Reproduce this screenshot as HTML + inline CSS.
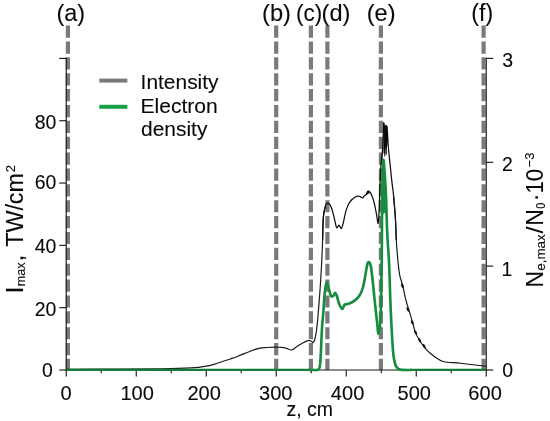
<!DOCTYPE html>
<html><head><meta charset="utf-8"><title>Intensity and electron density</title>
<style>
html,body{margin:0;padding:0;background:#fff;}
body{width:550px;height:421px;overflow:hidden;font-family:"Liberation Sans",sans-serif;}
svg{display:block;}
text{font-family:"Liberation Sans",sans-serif;fill:#0a0a0a;stroke:#0a0a0a;stroke-width:0.1;}
</style></head><body>
<svg width="550" height="421" viewBox="0 0 550 421">
<rect width="550" height="421" fill="#fff"/>

<g stroke="#7a7a7a" stroke-width="4.2" stroke-dasharray="12.2 3.67" fill="none">
<line x1="67.9" y1="25.6" x2="67.9" y2="370"/>
<line x1="276.2" y1="25.6" x2="276.2" y2="370"/>
<line x1="310.9" y1="25.6" x2="310.9" y2="370"/>
<line x1="327.4" y1="25.6" x2="327.4" y2="370"/>
<line x1="380.9" y1="25.6" x2="380.9" y2="370"/>
<line x1="483.6" y1="25.6" x2="483.6" y2="370"/>
</g>
<g fill="none" stroke="#0d0d0d" stroke-width="1.25" stroke-linejoin="round">
<path d="M66.5 369.3C75.4 369.3 104.4 369.2 120.0 369.1C135.6 369.0 148.2 369.0 160.0 368.8C171.8 368.6 184.5 368.1 191.0 367.9C197.5 367.6 196.4 367.6 199.0 367.3C201.6 367.0 203.9 366.7 206.4 366.2C208.9 365.7 211.4 365.0 214.0 364.3C216.6 363.6 219.2 362.7 221.8 361.8C224.4 360.9 226.9 360.1 229.5 359.2C232.1 358.3 234.0 357.8 237.3 356.5C240.7 355.2 246.0 352.9 249.6 351.5C253.2 350.1 256.1 349.1 258.9 348.4C261.7 347.7 263.5 347.7 266.6 347.5C269.7 347.3 274.4 347.1 277.5 347.2C280.6 347.2 282.9 347.3 285.2 347.8C287.5 348.3 289.6 350.1 291.4 350.0C293.2 349.9 294.2 348.3 296.0 347.2C297.8 346.1 300.2 344.3 302.2 343.2C304.2 342.1 306.3 341.1 307.8 340.7C309.3 340.3 310.1 340.7 311.0 341.0C311.9 341.3 312.4 342.8 313.0 342.6C313.6 342.4 314.1 341.7 314.7 339.8C315.3 337.9 315.9 334.6 316.4 331.0C316.9 327.4 317.2 325.6 317.8 318.4C318.4 311.1 319.5 297.3 320.2 287.5C320.9 277.7 321.4 267.7 321.8 259.8C322.2 251.9 322.4 247.0 322.6 240.0C322.9 233.0 322.9 223.6 323.3 218.0C323.7 212.4 324.9 208.5 325.2 206.6" stroke-width="1.2" stroke="#1c1c1c"/>
<path d="M322.6 240.0C322.7 236.3 322.9 223.6 323.3 218.0C323.7 212.4 324.5 209.1 325.2 206.6C325.9 204.1 326.8 203.2 327.7 203.2C328.6 203.2 329.9 204.4 330.9 206.6C331.9 208.8 332.9 212.6 333.8 216.1C334.8 219.6 335.8 226.0 336.6 227.5C337.5 229.0 338.1 225.0 338.9 225.2C339.7 225.4 340.7 228.9 341.4 228.5C342.1 228.1 342.5 225.8 343.3 222.8C344.1 219.8 345.0 213.9 346.1 210.4C347.2 206.9 348.3 204.2 349.9 201.9C351.5 199.6 354.0 197.6 355.6 196.7C357.2 195.8 358.3 196.1 359.5 196.3C360.7 196.5 361.8 198.0 362.6 197.9C363.4 197.8 363.6 196.6 364.2 196.0C364.8 195.4 365.5 195.2 366.0 194.6C366.5 194.0 366.8 192.8 367.2 192.2C367.6 191.6 368.0 190.8 368.6 191.0C369.2 191.2 370.0 191.7 370.8 193.3C371.6 195.0 372.8 197.4 373.7 200.9C374.6 204.4 375.8 210.5 376.5 214.2C377.2 217.9 377.7 223.7 378.1 223.3C378.5 222.9 378.9 215.9 379.1 212.0C379.3 208.1 379.4 203.7 379.5 200.0C379.6 196.3 379.7 193.4 379.8 190.0C379.9 186.6 380.0 184.2 380.2 179.5C380.4 174.8 380.8 166.9 381.2 162.0C381.6 157.1 382.2 153.3 382.5 150.0C382.8 146.7 382.8 146.6 383.0 142.0C383.2 137.4 383.6 125.7 383.7 122.4"/>
<path d="M383.7 122.4L384.0 153.0L384.3 124.0L384.8 156.0L385.2 125.8L385.6 148.0L385.9 125.3L386.3 154.0L386.6 125.8L386.9 146.0L387.2 126.5L388.6 150.0" stroke-width="1.05"/>
<path d="M388.6 150.0C389.1 155.0 390.9 172.3 391.7 180.0C392.5 187.7 393.0 189.3 393.6 196.0C394.2 202.7 395.1 212.7 395.5 220.0C395.9 227.3 396.2 236.7 396.3 240.0" stroke-width="1.25"/>
<path d="M393.6 196.0C393.9 200.0 395.1 212.7 395.5 220.0C395.9 227.3 395.9 233.1 396.3 240.0C396.7 246.9 397.4 255.5 398.0 261.4C398.6 267.3 399.0 271.7 399.8 275.6C400.6 279.6 401.6 281.1 402.6 285.1C403.6 289.1 404.6 295.0 405.7 299.4C406.8 303.8 408.1 307.4 409.3 311.3C410.5 315.2 411.8 319.6 412.8 323.1C413.8 326.6 414.1 329.3 415.3 332.4C416.6 335.5 418.5 338.6 420.3 341.5C422.1 344.4 424.4 347.4 426.4 349.6C428.4 351.9 430.4 353.4 432.4 355.0C434.4 356.6 436.6 358.2 438.5 359.3C440.4 360.4 440.4 361.0 444.1 361.7C447.8 362.4 454.1 362.6 460.7 363.3C467.3 364.0 479.7 365.5 483.9 366.0C488.1 366.5 485.6 366.2 486.0 366.3" stroke-width="1.15" stroke="#141414"/>
</g>
<g fill="#111">
<path d="M365.6 195.6L367 192.4L368.6 190.7L370.4 192.8L369 193.6L367.6 194.2Z"/>
<ellipse cx="402.4" cy="286.0" rx="1.15" ry="2.4" transform="rotate(-25 402.4 286.0)"/>
<ellipse cx="407.9" cy="309.5" rx="1.15" ry="2.4" transform="rotate(-25 407.9 309.5)"/>
<ellipse cx="412.3" cy="322.6" rx="1.15" ry="2.4" transform="rotate(-25 412.3 322.6)"/>
<ellipse cx="415.6" cy="332.6" rx="1.15" ry="2.4" transform="rotate(-25 415.6 332.6)"/>
<ellipse cx="419.6" cy="340.3" rx="1.15" ry="2.4" transform="rotate(-25 419.6 340.3)"/>
<ellipse cx="424.2" cy="346.3" rx="1.15" ry="2.4" transform="rotate(-25 424.2 346.3)"/>
</g>
<g stroke="#1a1a1a" stroke-width="1.15" fill="none">
<line x1="66.25" y1="57.8" x2="66.25" y2="370.6"/>
<line x1="486.25" y1="57.8" x2="486.25" y2="370.6"/>
<line x1="66.25" y1="370.0" x2="486.25" y2="370.0"/>
<line x1="66.25" y1="370.0" x2="66.25" y2="376.5"/>
<line x1="101.25" y1="370.0" x2="101.25" y2="373.3"/>
<line x1="136.25" y1="370.0" x2="136.25" y2="376.5"/>
<line x1="171.25" y1="370.0" x2="171.25" y2="373.3"/>
<line x1="206.25" y1="370.0" x2="206.25" y2="376.5"/>
<line x1="241.25" y1="370.0" x2="241.25" y2="373.3"/>
<line x1="276.25" y1="370.0" x2="276.25" y2="376.5"/>
<line x1="311.25" y1="370.0" x2="311.25" y2="373.3"/>
<line x1="346.25" y1="370.0" x2="346.25" y2="376.5"/>
<line x1="381.25" y1="370.0" x2="381.25" y2="373.3"/>
<line x1="416.25" y1="370.0" x2="416.25" y2="376.5"/>
<line x1="451.25" y1="370.0" x2="451.25" y2="373.3"/>
<line x1="486.25" y1="370.0" x2="486.25" y2="376.5"/>
<line x1="59.25" y1="370.00" x2="66.25" y2="370.00"/>
<line x1="59.25" y1="307.68" x2="66.25" y2="307.68"/>
<line x1="59.25" y1="245.36" x2="66.25" y2="245.36"/>
<line x1="59.25" y1="183.04" x2="66.25" y2="183.04"/>
<line x1="59.25" y1="120.72" x2="66.25" y2="120.72"/>
<line x1="59.25" y1="58.40" x2="66.25" y2="58.40"/>
<line x1="486.25" y1="370.00" x2="493.25" y2="370.00"/>
<line x1="486.25" y1="266.13" x2="493.25" y2="266.13"/>
<line x1="486.25" y1="162.27" x2="493.25" y2="162.27"/>
<line x1="486.25" y1="58.40" x2="493.25" y2="58.40"/>
</g>
<path d="M66.6 369.9H310M410 369.9H485.8" fill="none" stroke="#147c36" stroke-width="2.25"/>
<path d="M308.0 370.0C309.4 370.0 314.6 370.1 316.3 370.0C318.0 369.9 317.8 369.9 318.4 369.5C318.9 369.1 319.3 368.8 319.6 367.5C319.9 366.2 320.1 364.6 320.3 362.0C320.5 359.4 320.7 355.7 320.9 352.0C321.1 348.3 321.2 344.5 321.4 340.0C321.6 335.5 321.9 329.8 322.2 325.0C322.5 320.2 323.0 316.8 323.4 311.3C323.8 305.9 324.3 297.1 324.8 292.3C325.3 287.6 326.0 283.6 326.6 282.8C327.2 282.0 327.8 285.3 328.5 287.5C329.2 289.7 330.1 294.4 330.9 295.8C331.7 297.2 332.6 296.3 333.3 295.8C334.0 295.3 334.6 292.7 335.2 292.7C335.8 292.7 336.1 293.9 336.8 295.8C337.5 297.7 338.3 301.9 339.2 304.1C340.1 306.3 341.4 308.8 342.3 308.9C343.2 309.0 343.6 305.5 344.7 304.6C345.8 303.7 347.0 304.4 348.7 303.7C350.4 303.0 352.8 301.9 354.6 300.6C356.4 299.3 358.0 298.0 359.4 295.8C360.8 293.6 361.9 290.9 362.9 287.5C363.9 284.1 364.6 279.4 365.3 275.6C366.0 271.8 366.6 267.1 367.2 264.9C367.8 262.6 368.3 261.9 368.9 262.1C369.5 262.3 370.2 263.5 370.8 266.1C371.4 268.8 371.7 272.1 372.4 278.0C373.1 283.9 374.0 294.3 374.8 301.8C375.6 309.3 376.6 317.7 377.2 323.1C377.8 328.5 377.8 334.0 378.3 334.0C378.8 334.0 379.8 330.8 380.3 323.0C380.8 315.2 381.0 301.3 381.3 287.5C381.6 273.7 381.8 255.2 381.9 240.0C382.0 224.8 382.0 206.8 382.1 196.0C382.2 185.2 382.4 180.7 382.6 175.0C382.8 169.3 383.1 164.5 383.2 162.0C383.3 159.5 383.4 159.7 383.5 159.8C383.6 159.9 383.6 159.5 383.9 162.5C384.1 165.5 384.6 172.4 385.0 178.0C385.4 183.6 385.7 190.0 386.0 196.0C386.3 202.0 386.4 208.3 386.6 214.0C386.8 219.7 386.9 225.7 387.1 230.0C387.3 234.3 387.3 234.4 387.6 240.0C387.9 245.6 388.7 253.9 389.1 263.8C389.6 273.7 389.9 288.4 390.3 299.4C390.7 310.4 391.3 322.4 391.7 330.0C392.1 337.6 392.3 340.5 392.6 345.0C392.9 349.5 393.2 353.6 393.7 357.0C394.2 360.4 394.8 363.3 395.6 365.3C396.4 367.3 397.2 368.1 398.3 368.9C399.4 369.7 399.7 369.7 402.0 369.9C404.3 370.1 410.3 370.0 412.0 370.0" fill="none" stroke="#168c3f" stroke-width="2.65" stroke-linejoin="round"/>
<path d="M383.5 161L382.1 196L382 216L384.4 212.5L386.7 216L386 196L385 178Z" fill="#168c3f"/>
<text transform="translate(60.41,400.38) scale(1.003,1)" font-size="20.00">0</text>
<text transform="translate(120.40,400.38) scale(1.003,1)" font-size="20.00">100</text>
<text transform="translate(187.45,400.38) scale(1.003,1)" font-size="20.00">200</text>
<text transform="translate(259.07,400.38) scale(1.003,1)" font-size="20.00">300</text>
<text transform="translate(330.83,400.38) scale(1.003,1)" font-size="20.00">400</text>
<text transform="translate(397.55,400.38) scale(1.003,1)" font-size="20.00">500</text>
<text transform="translate(468.35,400.38) scale(1.003,1)" font-size="20.00">600</text>
<text transform="translate(41.93,376.57) scale(0.973,1)" font-size="20.00">0</text>
<text transform="translate(34.63,316.07) scale(0.973,1)" font-size="20.00">20</text>
<text transform="translate(34.63,253.07) scale(0.973,1)" font-size="20.00">40</text>
<text transform="translate(34.63,189.07) scale(0.973,1)" font-size="20.00">60</text>
<text transform="translate(34.63,128.68) scale(0.973,1)" font-size="20.00">80</text>
<text transform="translate(502.22,377.18) scale(0.973,1)" font-size="20.00">0</text>
<text transform="translate(501.54,275.77) scale(0.973,1)" font-size="20.00">1</text>
<text transform="translate(502.03,171.47) scale(0.973,1)" font-size="20.00">2</text>
<text transform="translate(502.27,66.67) scale(0.973,1)" font-size="20.00">3</text>
<text transform="translate(56.43,20.70) scale(0.985,1)" font-size="23.80">(a)</text>
<text transform="translate(262.02,20.70) scale(0.993,1)" font-size="23.80">(b)</text>
<text transform="translate(296.10,20.70) scale(0.943,1)" font-size="23.80">(c)</text>
<text transform="translate(321.62,20.70) scale(0.993,1)" font-size="23.80">(d)</text>
<text transform="translate(366.72,20.70) scale(0.993,1)" font-size="23.80">(e)</text>
<text transform="translate(471.35,20.70) scale(0.974,1)" font-size="23.80">(f)</text>
<line x1="99.3" y1="80.6" x2="127.4" y2="80.6" stroke="#7a7a7a" stroke-width="4"/>
<line x1="99.3" y1="106.8" x2="127.4" y2="106.8" stroke="#17a048" stroke-width="4"/>
<text transform="translate(140.56,88.90) scale(0.998,1)" font-size="21.00">Intensity</text>
<text transform="translate(140.46,112.90) scale(1.003,1)" font-size="21.00">Electron</text>
<text transform="translate(141.01,136.40) scale(0.999,1)" font-size="21.00">density</text>
<text transform="translate(286.52,416.00) scale(0.960,1)" font-size="20.30">z, cm</text>
<text transform="translate(22.70,293.36) rotate(-90) scale(1.000,1)" font-size="23.30">I</text>
<text transform="translate(25.40,286.35) rotate(-90) scale(0.944,1)" font-size="13.40">max</text>
<text transform="translate(22.70,261.30) rotate(-90) scale(1.000,1)" font-size="23.30">,</text>
<text transform="translate(22.70,246.82) rotate(-90) scale(1.000,1)" font-size="23.30">TW/cm</text>
<text transform="translate(14.90,172.15) rotate(-90) scale(0.968,1)" font-size="13.40">2</text>
<text transform="translate(542.50,287.51) rotate(-90) scale(0.993,1)" font-size="23.30">N</text>
<text transform="translate(545.10,270.87) rotate(-90) scale(1.007,1)" font-size="13.40">e,max</text>
<text transform="translate(542.50,233.50) rotate(-90) scale(1.067,1)" font-size="23.30">/</text>
<text transform="translate(542.50,225.71) rotate(-90) scale(0.993,1)" font-size="23.30">N</text>
<text transform="translate(545.10,208.84) rotate(-90) scale(0.813,1)" font-size="13.40">0</text>
<text transform="translate(542.50,200.91) rotate(-90) scale(0.952,1)" font-size="23.30">·10</text>
<text transform="translate(534.30,167.24) rotate(-90) scale(0.962,1)" font-size="13.40">−3</text>
</svg></body></html>
